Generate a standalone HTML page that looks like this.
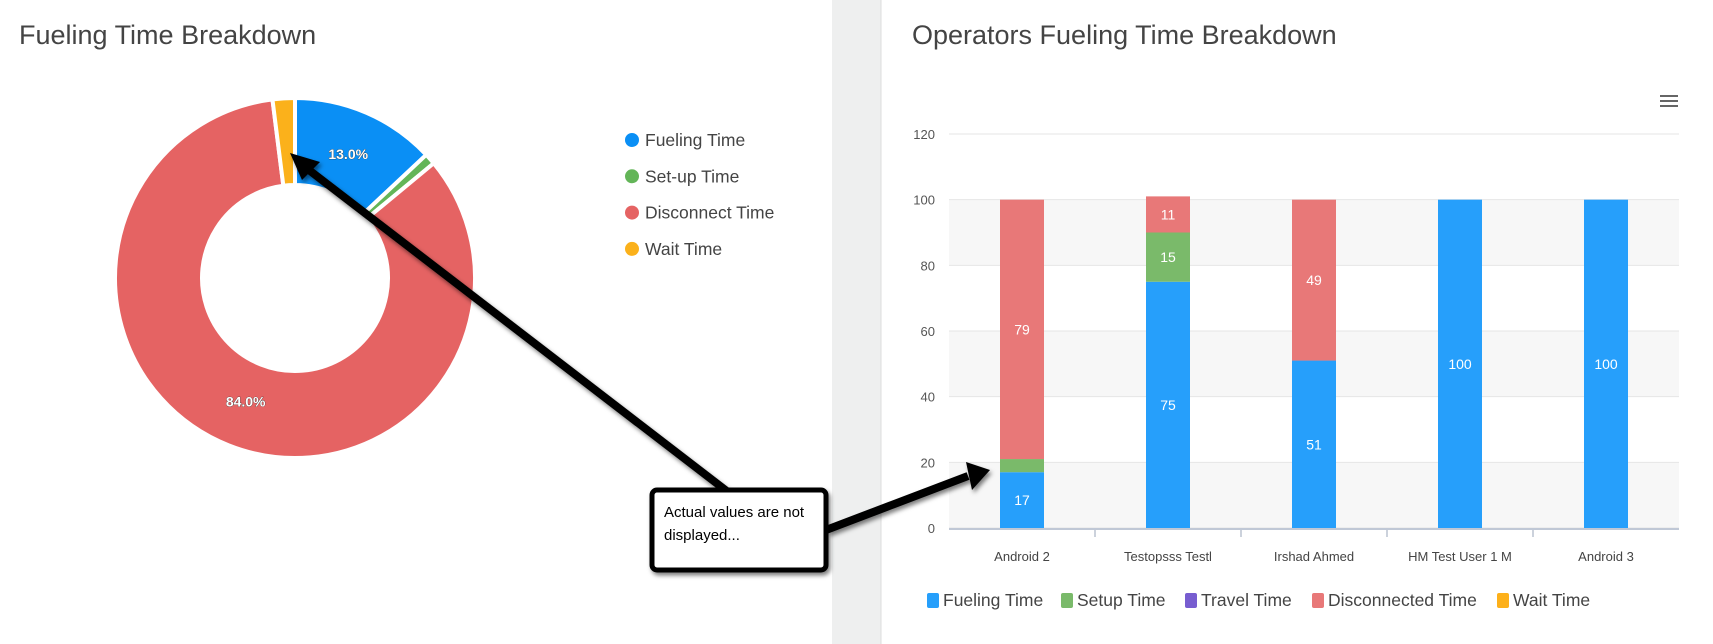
<!DOCTYPE html>
<html><head><meta charset="utf-8"><style>
body{margin:0;width:1713px;height:644px;overflow:hidden;background:#fff;font-family:"Liberation Sans",sans-serif;}
svg{position:absolute;left:0;top:0}
</style></head><body>
<svg id="s" width="1713" height="644">
<rect x="832" y="0" width="49" height="644" fill="#eeefef"/>
<line x1="881" y1="0" x2="881" y2="644" stroke="#dcdcdc"/>
<text x="19" y="44" font-size="27" fill="#444">Fueling Time Breakdown</text>
<text x="912" y="44" font-size="27" fill="#444">Operators Fueling Time Breakdown</text>
<g id="donut"></g>
<g id="pleg"></g>
<g id="bars"></g>
<g stroke="#666" stroke-width="2">
<line x1="1660" y1="96" x2="1678" y2="96"/><line x1="1660" y1="101" x2="1678" y2="101"/><line x1="1660" y1="106" x2="1678" y2="106"/></g>
<g>
<defs><filter id="sh"><feDropShadow dx="2" dy="3" stdDeviation="2" flood-opacity="0.5"/></filter></defs>
<g filter="url(#sh)">
<line x1="728" y1="492" x2="305" y2="167" stroke="#000" stroke-width="8"/>
<polygon points="290,153 320,162 302,180" fill="#000"/>
<line x1="826" y1="530" x2="968" y2="476" stroke="#000" stroke-width="8"/>
<polygon points="990,470 966,462 972,490" fill="#000"/>
<rect x="652" y="490" width="174" height="80" rx="5" fill="#fff" stroke="#000" stroke-width="5"/>
</g>
<text x="664" y="517" font-size="15" fill="#000">Actual values are not</text>
<text x="664" y="540" font-size="15" fill="#000">displayed...</text>
</g>
</svg>
<script>
const pieLabels=["Fueling Time","Set-up Time","Disconnect Time","Wait Time"];
const pieValues=[13,1,84,2];
const pieColors=["#0a8ff5","#63b558","#e56363","#fbb11b"];
const categories=["Android 2","Testopsss Testl","Irshad Ahmed","HM Test User 1 M","Android 3"];
const fueling=[17,75,51,100,100];
const setup=[4,15,0,0,0];
const travel=[0,0,0,0,0];
const disconnected=[79,11,49,0,0];
const wait=[0,0,0,0,0];
const yTicks=[0,20,40,60,80,100,120];
const ns="http://www.w3.org/2000/svg";
function mk(p,t,a){const e=document.createElementNS(ns,t);for(const k in a)e.setAttribute(k,a[k]);p.appendChild(e);return e;}
// donut
const dg=document.getElementById('donut');
const cx=295,cy=278,R=180,r=93;
let tot=pieValues.reduce((a,b)=>a+b,0),acc=0;
pieValues.forEach((v,i)=>{
 const a0=acc/tot*2*Math.PI,a1=(acc+v)/tot*2*Math.PI;acc+=v;
 const P=(a,rr)=>[cx+rr*Math.sin(a),cy-rr*Math.cos(a)];
 const [x0,y0]=P(a0,R),[x1,y1]=P(a1,R),[x2,y2]=P(a1,r),[x3,y3]=P(a0,r);
 const lg=(a1-a0)>Math.PI?1:0;
 const p=mk(dg,'path',{d:`M${x0},${y0}A${R},${R} 0 ${lg} 1 ${x1},${y1}L${x2},${y2}A${r},${r} 0 ${lg} 0 ${x3},${y3}Z`,fill:pieColors[i],stroke:'#fff','stroke-width':4});
 
 
 if(v>=5){const am=(a0+a1)/2;const [lx,ly]=P(am,134);
  const t=mk(dg,'text',{x:lx,y:ly+4,'text-anchor':'middle','font-size':14,'font-weight':'bold',fill:'#fff',stroke:'#333','stroke-width':0.6,'paint-order':'stroke'});
  t.textContent=v.toFixed(1)+'%';
  
  }
});
const pl=document.getElementById('pleg');
pieLabels.forEach((l,i)=>{const y=140+i*36.3;
 const c=mk(pl,'circle',{cx:632,cy:y,r:7,fill:pieColors[i]});
 
 
 const t=mk(pl,'text',{x:645,y:y+6,'font-size':17.5,fill:'#444'});t.textContent=l;
 
 });
// bars
const bg=document.getElementById('bars');
const x0=949,band=146,y0=528,ppu=(528-134)/120;
const Y=v=>y0-v*ppu;
for(let i=0;i<6;i++){ if(i%2==0){mk(bg,'rect',{x:x0,y:Y((i+1)*20),width:band*5,height:20*ppu,fill:'#f7f7f7'});}}
yTicks.forEach(v=>{mk(bg,'line',{x1:x0,x2:x0+band*5,y1:Y(v),y2:Y(v),stroke:'#e6e6e6'});
 const t=mk(bg,'text',{x:935,y:Y(v)+5,'text-anchor':'end','font-size':13,fill:'#555'});t.textContent=v;
 
 });
mk(bg,'line',{x1:x0,x2:x0+band*5,y1:y0+1,y2:y0+1,stroke:'#c0c8d6','stroke-width':2});
const series=[[fueling,'#269ffb','fueling'],[setup,'#7aba6a','setup'],[travel,'#775dd0','travel'],[disconnected,'#e87878','disconnected'],[wait,'#fdb01a','wait']];
categories.forEach((c,i)=>{
 const cxm=x0+band*(i+0.5);let base=0;
 if(i>0)mk(bg,'line',{x1:x0+band*i,x2:x0+band*i,y1:y0+2,y2:y0+9,stroke:'#9aa6b8'});
 series.forEach(([arr,col,nm])=>{const v=arr[i];if(!v)return;
  const rc=mk(bg,'rect',{x:cxm-22,y:Y(base+v),width:44,height:v*ppu,fill:col});
  
  
  if(v>=10){const t=mk(bg,'text',{x:cxm,y:Y(base+v/2)+5,'text-anchor':'middle','font-size':14,fill:'#fff'});t.textContent=v;
   
   }
  base+=v;});
 const t=mk(bg,'text',{x:cxm,y:561,'text-anchor':'middle','font-size':13,fill:'#444'});t.textContent=c;
 
 
});
const legNames=["Fueling Time","Setup Time","Travel Time","Disconnected Time","Wait Time"];
const legX=[927,1061,1185,1312,1497];
legNames.forEach((n,i)=>{
 const rr=mk(bg,'rect',{x:legX[i],y:593,width:12,height:15,rx:2,fill:series[i][1]});
 
 
 const t=mk(bg,'text',{x:legX[i]+16,y:606,'font-size':17.5,fill:'#444'});t.textContent=n;
 
 });
</script>
</body></html>
